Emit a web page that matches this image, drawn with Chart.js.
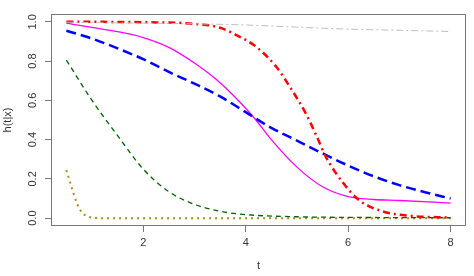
<!DOCTYPE html>
<html>
<head>
<meta charset="utf-8">
<script src="https://cdn.jsdelivr.net/npm/chart.js@4.4.0/dist/chart.umd.min.js"></script>
<style>
  html, body { margin: 0; padding: 0; background: #fff; }
  #wrap { width: 474px; height: 276px; }
</style>
</head>
<body>
<div id="wrap"><canvas id="c"></canvas></div>
<script>
// ---- data ----
const xTicks = [2, 4, 6, 8];
const yTicks = [0, 0.2, 0.4, 0.6, 0.8, 1.0];

const grayT = [0.5, 2, 3, 4, 5, 6, 7, 8];
const grayH = [0.998, 0.993, 0.99, 0.984, 0.973, 0.963, 0.957, 0.951];

const redT = [0.5, 1, 2, 3, 3.5, 3.8, 4.2, 4.6, 4.86, 5.18, 5.38, 5.57, 5.9, 6.22, 6.68, 7.2, 8];
const redH = [1.0, 1.0, 0.998, 0.99, 0.97, 0.935, 0.874, 0.77, 0.67, 0.53, 0.42, 0.31, 0.18, 0.09, 0.034, 0.012, 0.003];

const blueT = [0.5, 1, 1.5, 2, 2.5, 3, 3.5, 4, 4.5, 5, 5.5, 6, 6.5, 7, 7.5, 8];
const blueH = [0.955, 0.915, 0.865, 0.81, 0.745, 0.685, 0.62, 0.54, 0.46, 0.395, 0.33, 0.268, 0.213, 0.168, 0.132, 0.10];

const magentaT = [0.5, 1, 1.5, 2, 2.5, 3, 3.5, 4, 4.2, 4.5, 5, 5.5, 6, 6.5, 7, 8];
const magentaH = [0.993, 0.972, 0.95, 0.92, 0.87, 0.79, 0.69, 0.56, 0.50, 0.40, 0.26, 0.16, 0.11, 0.095, 0.09, 0.077];

const greenT = [0.5, 1, 1.5, 2, 2.5, 3, 3.5, 4, 5, 6, 8];
const greenH = [0.805, 0.60, 0.42, 0.25, 0.135, 0.07, 0.035, 0.018, 0.007, 0.004, 0.002];

const goldT = [0.5, 0.6, 0.7, 0.8, 0.9, 1.0, 1.2, 8];
const goldH = [0.245, 0.16, 0.08, 0.03, 0.01, 0.003, 0, 0];

function pts(ts, hs) {
    return ts.map((t, i) => ({ x: t, y: hs[i] }));
}

function line(ts, hs, color, width, dash) {
    return {
        data: pts(ts, hs),
        borderColor: color,
        borderWidth: width,
        borderDash: dash,
        pointRadius: 0,
        fill: false,
        cubicInterpolationMode: "monotone"
    };
}

// box round the plot region, like R's bty="o"
const boxPlugin = {
    id: "box",
    afterDraw(chart) {
        const a = chart.chartArea;
        const ctx = chart.ctx;
        ctx.save();
        ctx.strokeStyle = "#777";
        ctx.lineWidth = 1;
        ctx.strokeRect(Math.round(a.left) + 0.5, Math.round(a.top) + 0.5,
                       Math.round(a.right - a.left) - 1, Math.round(a.bottom - a.top) - 1);
        ctx.restore();
    }
};

const font = { family: "'Liberation Sans', Arial, sans-serif", size: 11 };

new Chart(document.getElementById("c"), {
    type: "line",
    data: {
        datasets: [
            line(grayT, grayH, "#bebebe", 1, [7, 3, 2, 3]),
            line(redT, redH, "#ff0000", 2.5, [7, 4, 2, 4]),
            line(blueT, blueH, "#0000ff", 2.5, [10, 5]),
            line(magentaT, magentaH, "#ff00ff", 1.3, []),
            line(greenT, greenH, "#006400", 1.3, [5, 4]),
            line(goldT, goldH, "#b08a18", 2, [2, 4])
        ]
    },
    options: {
        responsive: true,
        maintainAspectRatio: false,
        animation: false,
        layout: { padding: { top: 14, right: 8, left: 0, bottom: 0 } },
        plugins: {
            legend: { display: false },
            tooltip: { enabled: false }
        },
        scales: {
            x: {
                type: "linear",
                min: 0.2,
                max: 8.3,
                afterBuildTicks: s => { s.ticks = xTicks.map(v => ({ value: v })); },
                afterFit: s => { s.height = 50; },
                grid: { drawOnChartArea: false, drawTicks: true, tickLength: 6, color: "#777" },
                border: { display: false },
                ticks: { color: "#333", font: font, padding: 4, maxRotation: 0, autoSkip: false },
                title: { display: true, text: "t", color: "#333", font: font, padding: { top: 0, bottom: 3 } }
            },
            y: {
                type: "linear",
                min: -0.04,
                max: 1.04,
                afterBuildTicks: s => { s.ticks = yTicks.map(v => ({ value: v })); },
                afterFit: s => { s.width = 51; },
                grid: { drawOnChartArea: false, drawTicks: true, tickLength: 6, color: "#777" },
                border: { display: false },
                ticks: {
                    color: "#333", font: font, padding: 4, minRotation: 90, maxRotation: 90,
                    crossAlign: "center", autoSkip: false,
                    callback: v => v.toFixed(1)
                },
                title: { display: true, text: "h(t|x)", color: "#333", font: font, padding: { top: 1, bottom: 0 } }
            }
        }
    },
    plugins: [boxPlugin]
});
</script>
</body>
</html>
